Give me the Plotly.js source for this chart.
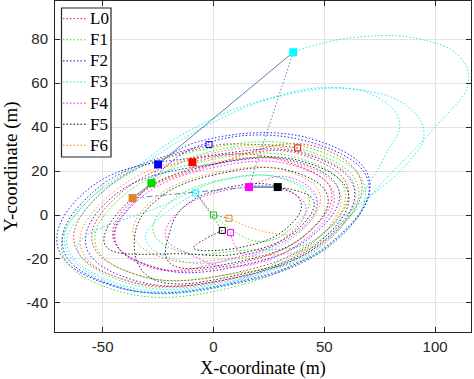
<!DOCTYPE html>
<html><head><meta charset="utf-8">
<script src="https://cdn.plot.ly/plotly-3.0.1.min.js"></script>
<style>html,body{margin:0;padding:0;background:#fff}#chart{width:474px;height:379px}</style>
</head><body><div id="chart"></div>
<script>
const agentNames = ['L0','F1','F2','F3','F4','F5','F6'];
const lineColors = ['#ff0000','#00ee00','#0000ff','#00e5e5','#ff00ff','#000000','#ff8000'];
const squareColors = ['#ff0000','#00dd00','#0000ff','#00ffff','#ff00ff','#000000','#e0822e'];

const xTickVals = [-50, 0, 50, 100];
const xTickText = ['-50', '0', '50', '100'];
const yTickVals = [-40, -20, 0, 20, 40, 60, 80];
const yTickText = ['-40', '-20', '0', '20', '40', '60', '80'];

// trajectories (x, y in m)
const pathL0 = [[38,30.5],[20,32],[-4.3,30.7],[-48.2,12.2],[-62.8,-12.8],[-39.4,-29.7],[8.3,-28.7],[52.2,-10.2],[66.8,14.8],[43.4,31.7],
  [-0.8,22.6],[-34.2,8.5],[-45.3,-10.5],[-27.5,-23.4],[8.8,-22.6],[42.2,-8.5],[53.3,10.5],[35.5,23.4],
  [-2.7,26.5],[-41.8,10.0],[-54.7,-12.3],[-33.9,-27.4],[8.7,-26.5],[47.8,-10.0],[60.7,12.3],[39.9,27.4],[12,28],[-9.5,24]];
const pathF1 = [[0,0],[20,-12],[35.3,-6.1],[43.2,7.5],[30.5,16.7],[4.6,16.2],[-19.3,6.1],[-27.2,-7.5],[-14.5,-16.7],[11.5,-16.2],
  [46.7,-10.8],[59.3,11.0],[39.0,25.7],[-2.5,24.8],[-40.7,8.8],[-53.3,-13.0],[-33.0,-27.7],[8.5,-26.8],
  [53.0,-13.8],[68.3,12.6],[43.7,30.4],[-6.7,29.3],[-53.0,9.8],[-68.3,-16.6],[-43.7,-34.4],[6.7,-33.3],
  [51.1,-12.0],[65.4,12.5],[42.5,29.1],[-4.2,28.1],[-28,14.5]];
const pathF2 = [[-2,32],[-52.5,12.0],[-68.0,-14.7],[-43.1,-32.7],[7.8,-31.7],[54.5,-12.0],[70.0,14.7],[45.1,32.7],[-5.8,31.7],
  [-33.3,8.8],[-44.7,-10.8],[-26.4,-24.0],[11.0,-23.3],[45.3,-8.8],[56.7,10.8],[38.4,24.0],[1.0,23.3],
  [-44.0,9.5],[-57.5,-13.9],[-35.7,-29.7],[8.9,-28.8],[50.0,-11.5],[63.5,11.9],[41.7,27.7],[-2.9,26.8],
  [-54.6,13.2],[-70.4,-14.0],[-45.0,-32.4],[6.9,-31.3],[54.6,-11.2],[70.4,16.0],[45.0,34.4],[-6.9,33.3],[-25,23]];
const pathF3 = [[-8,10],[-30.7,-10.3],[-16.8,-20.4],[11.8,-19.8],[38.0,-8.7],[46.7,6.3],[32.8,16.4],[4.2,15.8],[-22.0,4.7],
  [-61.4,-14.5],[-38.5,-31.1],[8.2,-30.1],[51.1,-12.0],
  [66,8],[78,28],[84,42],[75,53],[54,58],[25,53],[-6,41],[-32,24],
  [-58,2],[-66,-14],[-44,-31],[-3,-33],[35,-18],
  [62,2],[88,24],[95,37],[88,49],[65,57],[30,54],[-6,39],[-36,20],
  [-58,5],[-67,-14],[-44,-32],[0,-33],[39,-17],
  [62,0],[82,21],[100,40],[115,60],[111,72],[93,80],[66,81],[45,77],[36,74]];
const pathF4 = [[7.7,-8],[13.1,-17.5],[34.6,-8.5],[41.7,3.8],[30.3,12.0],[6.9,11.5],[-14.6,2.5],[-21.7,-9.8],[-10.3,-18.0],
  [9.8,-23.6],[43.2,-9.5],[54.3,9.5],[36.5,22.4],[0.2,21.6],[-33.2,7.5],[-44.3,-11.5],[-26.5,-24.4],
  [11.8,-18.8],[38.0,-7.7],[46.7,7.3],[32.8,17.4],[16,12.7]];
const pathF5 = [[4,-7],[-8.9,-15.0],[12.9,-14.6],[32.9,-6.1],[39.6,5.3],[28.9,13.0],[7.1,12.6],[-12.9,4.1],[-19.6,-7.3],
  [-19.9,-21.7],[12.3,-21.0],[41.9,-8.6],[51.6,8.3],[35.9,19.7],[3.7,19.0],[-25.9,6.6],[-35.6,-10.3],
  [-29.1,-28.1],[11.4,-27.2],[48.6,-11.5],[60.9,9.7],[41.1,24.1],[0.6,23.2],[-36.6,7.5],[-48.9,-13.7],
  [-12.5,-17.7],[13.5,-17.2],[37.3,-7.1],[45.2,6.5],[29,12.7]];
const pathF6 = [[7,-1.5],[25,-8],[38.8,-7.3],[48.2,9.0],[33.0,20.0],[1.9,19.4],[-26.8,7.3],[-36.2,-9.0],[-21.0,-20.0],[10.1,-19.4],
  [50.0,-11.7],[64.0,12.2],[41.6,28.4],[-4.1,27.4],[-46.0,9.7],[-60.0,-14.2],[-37.6,-30.4],[8.1,-29.4],
  [44.7,-12.8],[57.3,9.0],[37.0,23.7],[-4.5,22.8],[-36.5,7.7]];
const paths = [pathL0, pathF1, pathF2, pathF3, pathF4, pathF5, pathF6];

// final positions (filled squares) and start positions (open squares)
const finalX = [-9.5, -28, -25, 36, 16, 29, -36.5];
const finalY = [24, 14.5, 23, 74, 12.7, 12.7, 7.7];
const startX = [38, 0, -2, -8, 7.7, 4, 7];
const startY = [30.5, 0, 32, 10, -8, -7, -1.5];

// communication links between final positions [from, to, dash, width]
const links = [[3,2,'solid',1],[3,4,'dot',1],[4,5,'solid',1.6],[2,1,'dot',1],[1,6,'dot',1],[6,4,'dashdot',1]];
const startLinks = [[3,5],[1,6],[1,3]];

const traces = [];
paths.forEach((p, i) => {
  traces.push({
    x: p.map(q => q[0]), y: p.map(q => q[1]),
    type: 'scatter', mode: 'lines', name: agentNames[i],
    line: {color: lineColors[i], width: 1, dash: '1.5px,2px', shape: 'spline', smoothing: 1.2},
    opacity: 0.85, showlegend: false, hoverinfo: 'skip'
  });
});
startLinks.forEach(l => {
  traces.push({x: [startX[l[0]], startX[l[1]]], y: [startY[l[0]], startY[l[1]]], type: 'scatter', mode: 'lines',
    line: {color: '#666666', width: 1, dash: '1.5px,2px'}, showlegend: false, hoverinfo: 'skip'});
});
links.forEach(l => {
  traces.push({x: [finalX[l[0]], finalX[l[1]]], y: [finalY[l[0]], finalY[l[1]]], type: 'scatter', mode: 'lines',
    line: {color: '#5a83b3', width: l[3], dash: l[2] === 'dot' ? '1.5px,2px' : (l[2] === 'dashdot' ? '6px,3px,2px,3px' : 'solid')},
    showlegend: false, hoverinfo: 'skip'});
});
traces.push({x: startX, y: startY, type: 'scatter', mode: 'markers', showlegend: false, hoverinfo: 'skip',
  marker: {symbol: 'square-open', size: 6, color: squareColors, line: {width: 1, color: squareColors}}});
traces.push({x: finalX, y: finalY, type: 'scatter', mode: 'markers', showlegend: false, hoverinfo: 'skip',
  marker: {symbol: 'square', size: 8, color: squareColors, line: {width: 0}}});

// legend box (MATLAB-style, compact) in paper coordinates
const plotLeft = 55, plotTop = 1, plotW = 416, plotH = 331;
const px2x = p => (p - plotLeft) / plotW;
const py2y = p => 1 - (p - plotTop) / plotH;
const shapes = [{type: 'rect', xref: 'paper', yref: 'paper', x0: px2x(61.5), x1: px2x(111), y0: py2y(157), y1: py2y(8),
  fillcolor: '#ffffff', line: {color: '#262626', width: 1.2}, layer: 'above'}];
const annotations = [];
agentNames.forEach((n, i) => {
  const cy = 18.7 + i * 21.1;
  shapes.push({type: 'line', xref: 'paper', yref: 'paper', x0: px2x(63), x1: px2x(86), y0: py2y(cy), y1: py2y(cy),
    line: {color: lineColors[i], width: 1, dash: '1.5px,2px'}, layer: 'above'});
  annotations.push({xref: 'paper', yref: 'paper', x: px2x(88), y: py2y(cy), xanchor: 'left', yanchor: 'middle',
    text: n, showarrow: false, font: {family: '"Liberation Serif", "Times New Roman", serif', size: 17, color: '#000000'}});
});

const axisCommon = {
  showgrid: true, gridcolor: '#e3e3e3', gridwidth: 1, zeroline: false,
  showline: true, linecolor: '#262626', linewidth: 1, mirror: 'ticks',
  ticks: 'inside', ticklen: 5, tickwidth: 1, tickcolor: '#262626',
  tickfont: {family: '"Liberation Sans", Arial, sans-serif', size: 15, color: '#262626'},
  tickmode: 'array', fixedrange: true
};

const layout = {
  width: 474, height: 379,
  margin: {l: 55, r: 3, t: 1, b: 47},
  paper_bgcolor: '#ffffff', plot_bgcolor: '#ffffff',
  showlegend: false,
  shapes: shapes, annotations: annotations,
  xaxis: Object.assign({}, axisCommon, {
    range: [-71.5, 116.2], tickvals: xTickVals, ticktext: xTickText, ticklabelstandoff: 1,
    title: {text: 'X-coordinate (m)', standoff: 7, font: {family: '"Liberation Serif", "Times New Roman", serif', size: 18, color: '#000000'}}
  }),
  yaxis: Object.assign({}, axisCommon, {
    range: [-53.2, 97.3], tickvals: yTickVals, ticktext: yTickText, ticklabelstandoff: 3,
    title: {text: 'Y-coordinate (m)', standoff: 6, font: {family: '"Liberation Serif", "Times New Roman", serif', size: 19, color: '#000000'}}
  })
};

Plotly.newPlot('chart', traces, layout, {displayModeBar: false, staticPlot: true});
</script></body></html>
